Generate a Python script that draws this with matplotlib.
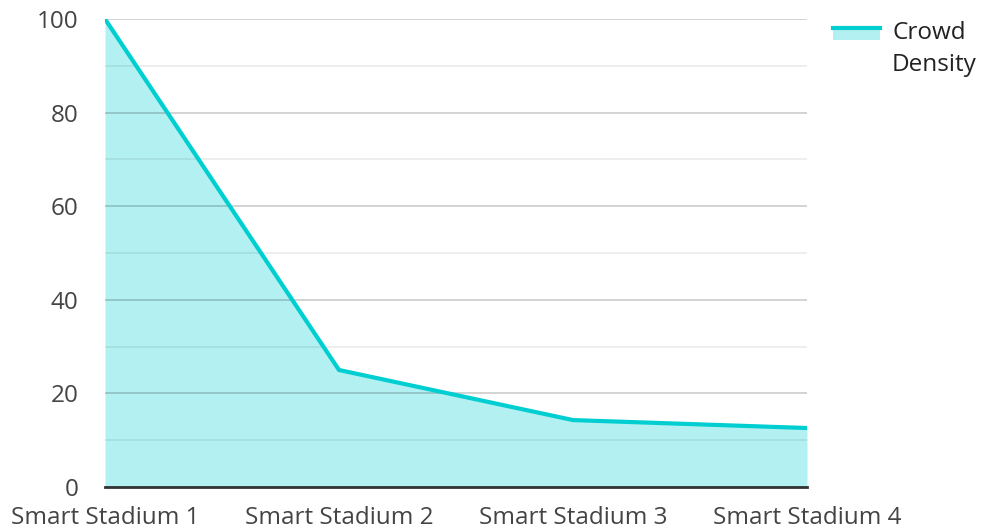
import matplotlib
matplotlib.use("Agg")
import matplotlib.pyplot as plt
from matplotlib.patches import Rectangle
from matplotlib.lines import Line2D
from matplotlib.legend_handler import HandlerBase

categories = ["Smart Stadium 1", "Smart Stadium 2", "Smart Stadium 3", "Smart Stadium 4"]
crowd_density = [100, 25, 14.3, 12.6]
series_name = "Crowd\nDensity"

LINE = "#00CED1"
FILL = "#b3f0f1"
TXT = "#444444"
FS = 17.5

plt.rcParams["font.family"] = ["Open Sans", "DejaVu Sans"]

fig = plt.figure(figsize=(9.81, 5.28), dpi=100)
ax = fig.add_axes([105/981, 41/528, 702/981, 468/528])

x = list(range(len(categories)))
ax.fill_between(x, crowd_density, 0, color=FILL, linewidth=0, zorder=1)
ax.plot(x, crowd_density, color=LINE, linewidth=3, zorder=3, solid_joinstyle="miter")

ax.set_xlim(0, len(categories) - 1)
ax.set_ylim(0, 100)
ax.set_yticks(range(0, 101, 20))
ax.set_yticks(range(10, 100, 20), minor=True)
ax.grid(True, which="major", axis="y", color="#000000", alpha=0.2, linewidth=1.2, zorder=2)
ax.grid(True, which="minor", axis="y", color="#000000", alpha=0.08, linewidth=1.2, zorder=2)
ax.set_axisbelow(False)
ax.set_xticks(x)
ax.set_xticklabels(categories)
for s in ["top", "right", "left"]:
    ax.spines[s].set_visible(False)
ax.spines["bottom"].set_color("#333333")
ax.spines["bottom"].set_linewidth(2)
ax.spines["bottom"].set_zorder(4)
ax.tick_params(axis="both", which="both", length=0, labelsize=FS, colors=TXT)
ax.tick_params(axis="y", pad=19)
ax.tick_params(axis="x", pad=14)


class AreaHandler(HandlerBase):
    def create_artists(self, legend, orig_handle, xdescent, ydescent, width, height, fontsize, trans):
        L = -ydescent + fontsize * 1.23
        rect = Rectangle((-xdescent, L - fontsize * 0.49), width, fontsize * 0.49,
                         facecolor=FILL, edgecolor="none", transform=trans)
        ln = Line2D([-xdescent, -xdescent + width], [L, L],
                    color=LINE, linewidth=3, transform=trans)
        return [rect, ln]


handle = Rectangle((0, 0), 1, 1)
leg = fig.legend([handle], [series_name], handler_map={Rectangle: AreaHandler()},
                 loc="upper left", bbox_to_anchor=(833/981, 1 - 21/528),
                 frameon=False, fontsize=FS, handlelength=1.93, handletextpad=0.5,
                 borderpad=0, borderaxespad=0, labelcolor="#222222")
for t in leg.get_texts():
    t.set_linespacing(1.42)

fig.savefig("out.png", dpi=100)
